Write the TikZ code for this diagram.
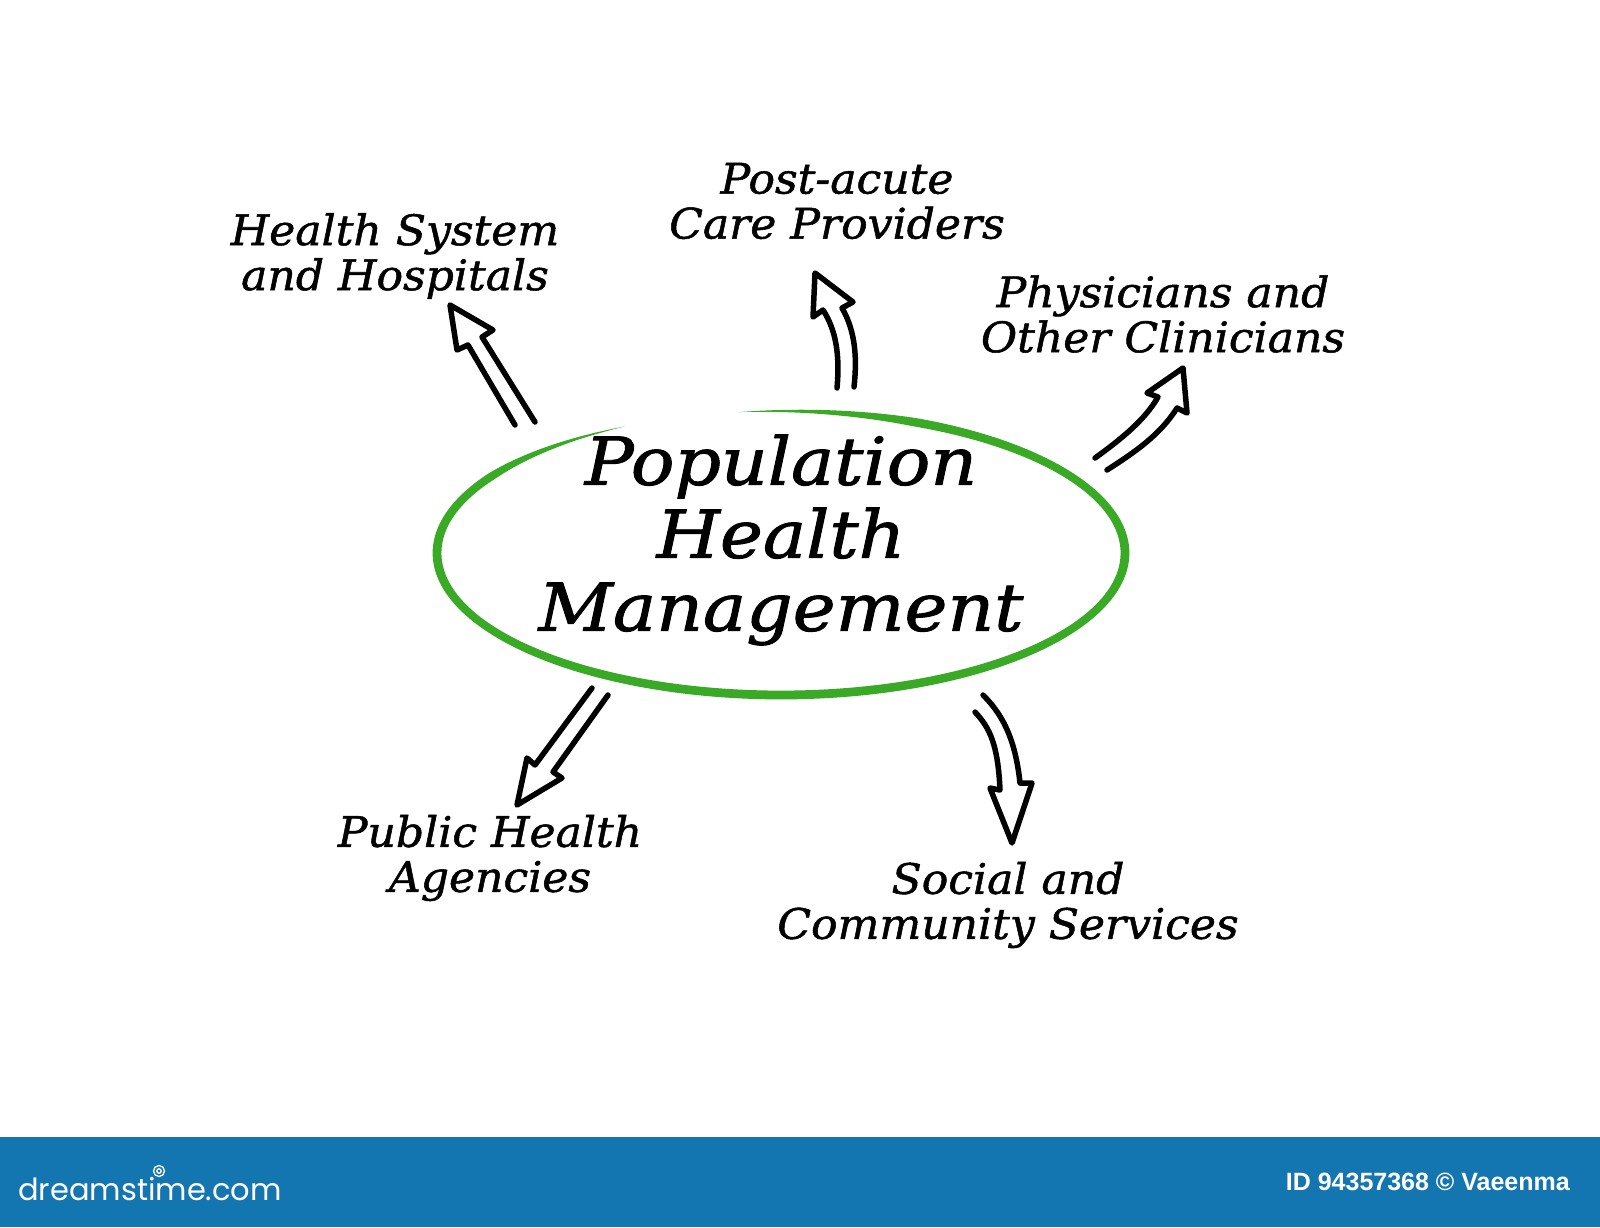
\documentclass[tikz,border=0pt]{standalone}
\usepackage{fontspec}
\newfontfamily\handfont{DejaVu Serif}[FakeStretch=1.05,FakeBold=1.2]
\newfontfamily\handcfont{DejaVu Serif}[FakeStretch=1.1,FakeBold=1.4]
\newfontfamily\logofont{Poppins}
\newfontfamily\idfont{Liberation Sans}
\definecolor{phmgreen}{RGB}{58,170,38}
\definecolor{footblue}{RGB}{20,118,176}
\tikzset{
  label/.style={font=\handfont\itshape\fontsize{42}{45}\selectfont, align=center, inner sep=0pt},
  centre/.style={font=\handcfont\itshape\fontsize{66}{73}\selectfont, align=center, inner sep=0pt},
  harrow/.style={line width=5.5pt, line join=round, line cap=round, draw=black},
  declare function={tw(\t)=4.4*min(1,(\t+243)/30,(97-\t)/30);}
}
\begin{document}
\begin{tikzpicture}[x=1pt,y=-1pt]
\useasboundingbox (0,0) rectangle (1600,1227);
\fill[white] (0,0) rectangle (1600,1227);

% green hand-drawn ellipse
\fill[phmgreen] plot[domain=-243:97,samples=200,smooth] ({781+(344+tw(\x))*cos(\x)},{553-(142+tw(\x))*sin(\x)})
  -- plot[domain=-243:97,samples=200,smooth] ({781+(344-tw(-146-\x))*cos(-146-\x)},{553-(142-tw(-146-\x))*sin(-146-\x)}) -- cycle;

% centre text
\node[centre] (phm) at (781,540) {Population\\Health\\Management};

% labels
\node[label] (hs) at (395,256) {Health System\\and Hospitals};
\node[label] (pa) at (837,201) {Post-acute\\Care Providers};
\node[label] (ph) at (1163,314) {Physicians and\\Other Clinicians};
\node[label] (pub) at (490,858) {Public Health\\Agencies};
\node[label] (soc) at (1008,905) {Social and\\Community Services};

% hollow arrows
\draw[harrow] (515,425) -- (468,345) -- (457,350) -- (450,305) -- (493,330) -- (482,337) -- (535,422);
\draw[harrow] (837,388) .. controls (840,355) and (836,330) .. (823,310) -- (813,317) -- (815,273) -- (853,302) -- (842,308) .. controls (856,332) and (857,360) .. (854,387);
\draw[harrow] (1095,458) .. controls (1120,440) and (1145,420) .. (1158,397) -- (1147,393) -- (1183,368) -- (1187,413) -- (1177,408) .. controls (1160,435) and (1135,452) .. (1107,470);
\draw[harrow] (592,688) -- (535,765) -- (527,758) -- (517,805) -- (562,778) -- (553,772) -- (608,695);
\draw[harrow] (975,712) .. controls (990,728) and (998,745) .. (1000,790) -- (990,788) -- (1012,843) -- (1032,783) -- (1020,783) .. controls (1015,735) and (1000,712) .. (983,695);

% footer
\fill[footblue] (0,1137) rectangle (1600,1227);
\node[font=\logofont\fontsize{30.5}{30.5}\selectfont, text=white, anchor=west, inner sep=0pt] (logo) at (18,1189) {dreamstime.com};
\draw[white, line width=1.3pt] (159,1171) circle (5.5) (159,1171) circle (2.2);
\node[font=\idfont\bfseries\fontsize{25}{25}\selectfont, text=white, anchor=east, inner sep=0pt] (id) at (1570,1182) {ID 94357368 © Vaeenma};
\end{tikzpicture}
\end{document}
